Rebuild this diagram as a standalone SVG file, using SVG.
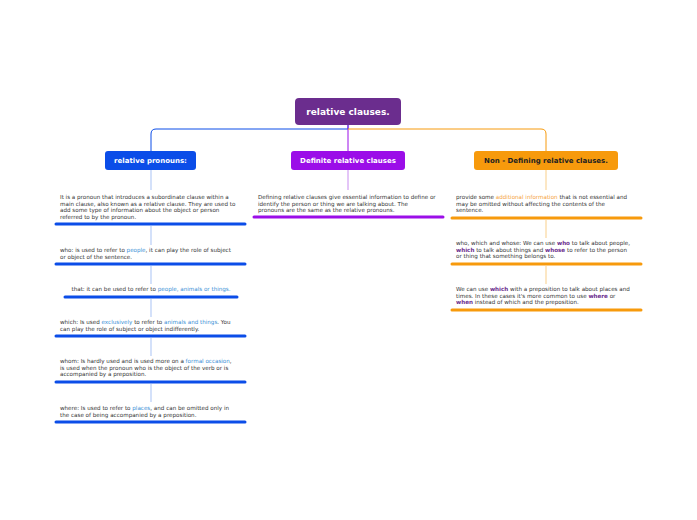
<svg xmlns="http://www.w3.org/2000/svg" width="697" height="520" viewBox="0 0 697 520">
<style>
text{font-family:"DejaVu Sans",Verdana,sans-serif}
.t{font-size:5.6px;fill:#333}
.b{fill:#3a8fd6}.o{fill:#f5a33d}.p{fill:#6b2d8e;font-weight:bold}
.ub{stroke:#0b4de8;stroke-width:3;stroke-linecap:round}
.up{stroke:#9b0ee8;stroke-width:3;stroke-linecap:round}
.uo{stroke:#f79a0c;stroke-width:3;stroke-linecap:round}
.vb{stroke:#a9c3f5;stroke-width:1}
.vp{stroke:#c98cf0;stroke-width:1}
.vo{stroke:#f9cf8a;stroke-width:1}
.h{font-size:7px;font-weight:bold;text-anchor:middle}
</style>
<rect width="697" height="520" fill="#fff"/>
<g id="connectors" fill="none">
<path d="M348 125V129H156Q151 129 151 134V151" stroke="#0b4de8"/>
<path d="M348 125V151" stroke="#9b0ee8"/>
<path d="M348 129H541Q546 129 546 134V151" stroke="#f79a0c"/>
<line class="vb" x1="151" y1="170" x2="151" y2="190"/>
<line class="vb" x1="151" y1="226" x2="151" y2="245"/>
<line class="vb" x1="151" y1="266" x2="151" y2="284"/>
<line class="vb" x1="151" y1="299" x2="151" y2="317"/>
<line class="vb" x1="151" y1="338" x2="151" y2="356"/>
<line class="vb" x1="151" y1="384" x2="151" y2="402"/>
<line class="vp" x1="348" y1="170" x2="348" y2="190"/>
<line class="vo" x1="546" y1="170" x2="546" y2="190"/>
<line class="vo" x1="546" y1="220" x2="546" y2="238"/>
<line class="vo" x1="546" y1="266" x2="546" y2="284"/>
</g>
<g id="root"><rect x="295" y="98" width="106" height="27" rx="4" fill="#6b2d8e"/><text x="348" y="115" font-size="9" font-weight="bold" fill="#fff" text-anchor="middle">relative clauses.</text></g>
<g id="n-pronouns"><rect x="105" y="151" width="91" height="19" rx="3" fill="#0b4de8"/><text class="h" x="150.5" y="163" fill="#fff">relative pronouns:</text></g>
<g id="n-defining"><rect x="291" y="151" width="114" height="19" rx="3" fill="#9b0ee8"/><text class="h" x="348" y="163" fill="#fff">Definite relative clauses</text></g>
<g id="n-nondefining"><rect x="474" y="151" width="144" height="19" rx="3" fill="#f79a0c"/><text class="h" x="546" y="163" fill="#222">Non - Defining relative clauses.</text></g>
<g id="p1"><text class="t" x="60" y="199">It is a pronoun that introduces a subordinate clause within a</text><text class="t" x="60" y="205.5">main clause, also known as a relative clause. They are used to</text><text class="t" x="60" y="212">add some type of information about the object or person</text><text class="t" x="60" y="218.5">referred to by the pronoun.</text><line class="ub" x1="56" y1="224" x2="245" y2="224"/></g>
<g id="p2"><text class="t" x="60" y="252">who: is used to refer to <tspan class="b">people</tspan>, it can play the role of subject</text><text class="t" x="60" y="258.5">or object of the sentence.</text><line class="ub" x1="56" y1="264" x2="245" y2="264"/></g>
<g id="p3"><text class="t" x="151" y="291" text-anchor="middle">that: it can be used to refer to <tspan class="b">people, animals or things.</tspan></text><line class="ub" x1="65" y1="297" x2="237" y2="297"/></g>
<g id="p4"><text class="t" x="60" y="324">which: Is used <tspan class="b">exclusively</tspan> to refer to <tspan class="b">animals and things</tspan>. You</text><text class="t" x="60" y="330.5">can play the role of subject or object indifferently.</text><line class="ub" x1="56" y1="336" x2="245" y2="336"/></g>
<g id="p5"><text class="t" x="60" y="363">whom: Is hardly used and is used more on a <tspan class="b">formal occasion</tspan>,</text><text class="t" x="60" y="369.5">is used when the pronoun who is the object of the verb or is</text><text class="t" x="60" y="376">accompanied by a preposition.</text><line class="ub" x1="56" y1="382" x2="245" y2="382"/></g>
<g id="p6"><text class="t" x="60" y="410">where: Is used to refer to <tspan class="b">places</tspan>, and can be omitted only in</text><text class="t" x="60" y="416.5">the case of being accompanied by a preposition.</text><line class="ub" x1="56" y1="422" x2="245" y2="422"/></g>
<g id="d1"><text class="t" x="258" y="199">Defining relative clauses give essential information to define or</text><text class="t" x="258" y="205.5">identify the person or thing we are talking about. The</text><text class="t" x="258" y="212">pronouns are the same as the relative pronouns.</text><line class="up" x1="254" y1="217" x2="443" y2="217"/></g>
<g id="nd1"><text class="t" x="456" y="199">provide some <tspan class="o">additional information</tspan> that is not essential and</text><text class="t" x="456" y="205.5">may be omitted without affecting the contents of the</text><text class="t" x="456" y="212">sentence.</text><line class="uo" x1="452" y1="218" x2="641" y2="218"/></g>
<g id="nd2"><text class="t" x="456" y="245">who, which and whose: We can use <tspan class="p">who</tspan> to talk about people,</text><text class="t" x="456" y="251.5"><tspan class="p">which</tspan> to talk about things and <tspan class="p">whose</tspan> to refer to the person</text><text class="t" x="456" y="258">or thing that something belongs to.</text><line class="uo" x1="452" y1="264" x2="641" y2="264"/></g>
<g id="nd3"><text class="t" x="456" y="291">We can use <tspan class="p">which</tspan> with a preposition to talk about places and</text><text class="t" x="456" y="297.5">times. In these cases it's more common to use <tspan class="p">where</tspan> or</text><text class="t" x="456" y="304"><tspan class="p">when</tspan> instead of which and the preposition.</text><line class="uo" x1="452" y1="310" x2="641" y2="310"/></g>
</svg>
